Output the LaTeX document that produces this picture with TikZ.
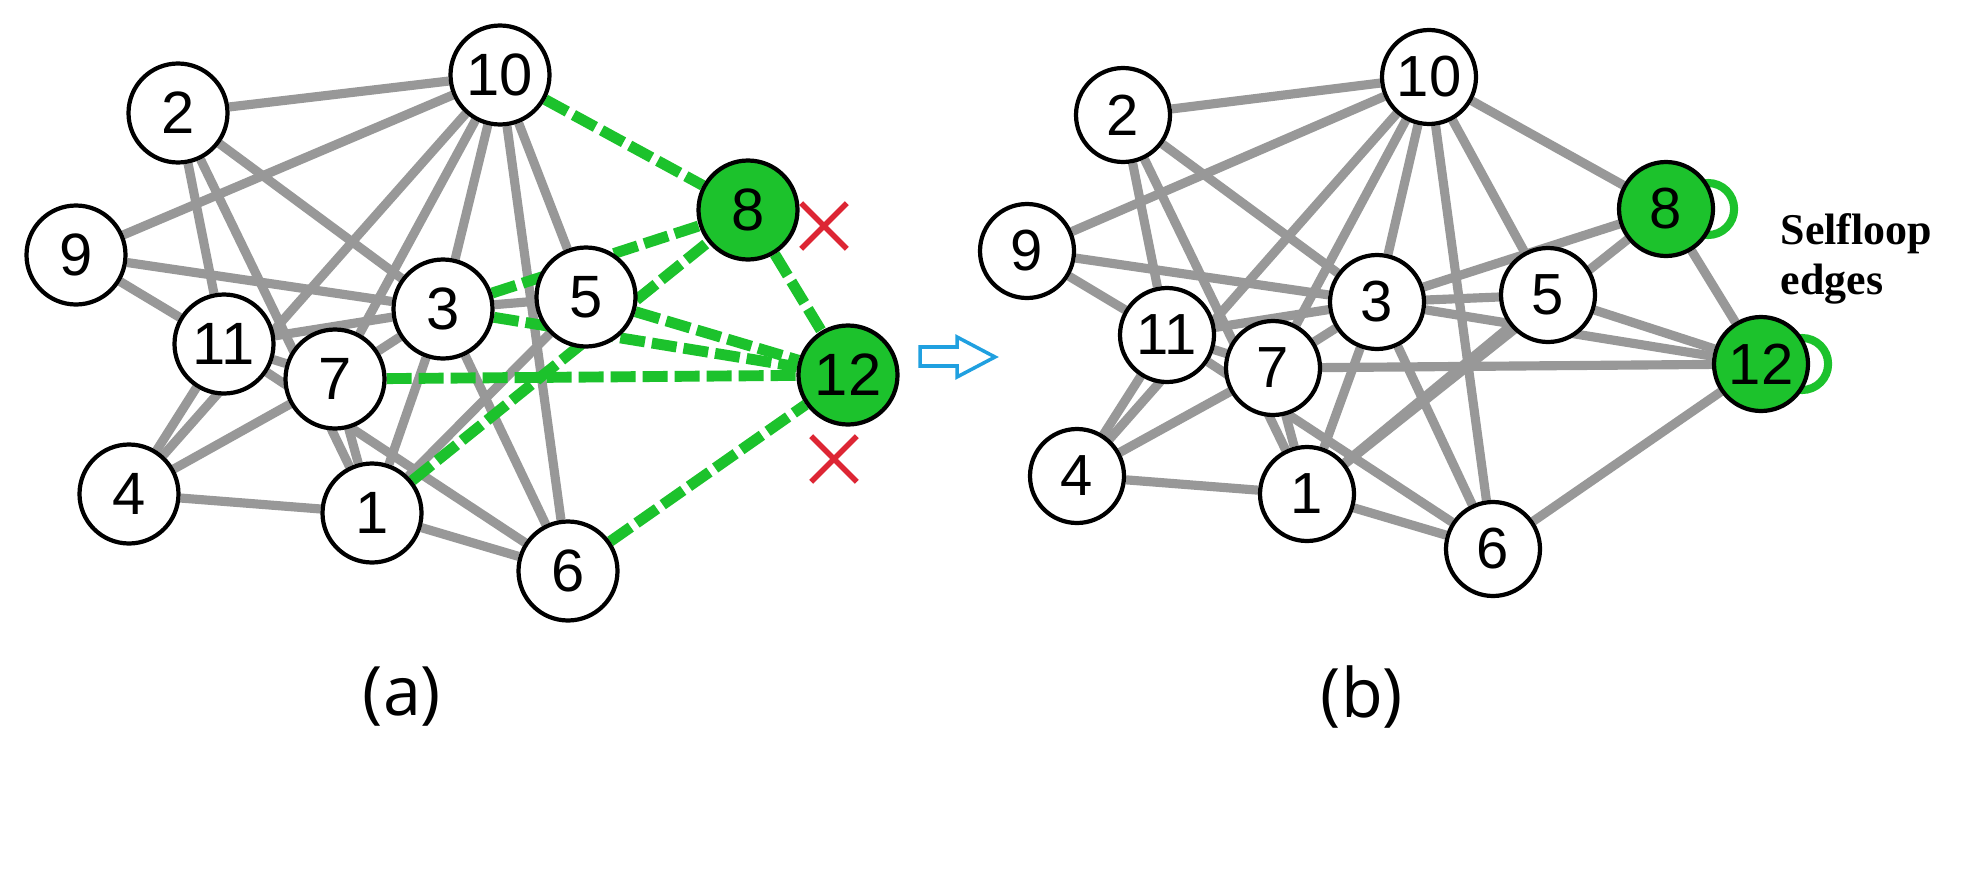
\documentclass[tikz,border=0pt]{standalone}
\usepackage{fontspec}
\setsansfont{Liberation Sans}
\newfontfamily\capfont{Open Sans}
\newfontfamily\notefont{Liberation Serif}
\usetikzlibrary{backgrounds,shapes.misc}
\definecolor{linkgray}{RGB}{152,152,152}
\definecolor{hitgreen}{RGB}{28,194,44}
\definecolor{markred}{RGB}{221,38,52}
\definecolor{arrowblue}{RGB}{32,160,224}
\newcommand\graylinks{2/10, 2/3, 2/11, 2/1, 9/10, 9/3, 9/11, 10/4, 10/7, 10/3, 10/6, 10/5, 11/4, 11/7, 11/3, 11/6, 4/7, 4/1, 7/3, 7/1, 3/1, 3/5, 3/6, 5/1, 1/6}
\newcommand\greenlinks{10/8, 3/8, 1/8, 8/12, 5/12, 3/12, 7/12, 6/12}
\tikzset{
  vertex/.style={circle, draw=black, line width=1.2pt, fill=white, inner sep=0pt, minimum size=0.99cm, font=\sffamily\fontsize{17}{17}\selectfont},
  small/.style={minimum size=0.94cm, font=\sffamily\fontsize{16.5}{16.5}\selectfont},
  plain/.style={},
  hit/.style={fill=hitgreen},
  link/.style={linkgray, line width=2.6pt},
  cutlink/.style={hitgreen, line width=3.1pt, dash pattern=on 0.25cm off 0.07cm},
  selfloop/.style={hitgreen, line width=2.3pt},
  nomark/.style={cross out, draw=markred, line width=1.6pt, minimum size=0.4cm, inner sep=0pt},
  panel/.style={font=\capfont\fontsize{19.4}{19.4}\selectfont},
}
\begin{document}
\begin{tikzpicture}
    \useasboundingbox (0,0) rectangle (19.72,8.68);
    \foreach \n/\x/\y/\s in {1/3.72/3.55/plain, 2/1.78/7.55/plain, 3/4.43/5.59/plain, 4/1.29/3.74/plain, 5/5.86/5.71/plain, 6/5.68/2.97/plain, 7/3.35/4.89/plain, 8/7.48/6.58/hit, 9/0.76/6.13/plain, 10/5.00/7.93/plain, 11/2.24/5.24/plain, 12/8.48/4.93/hit}
        \node[vertex,\s] (a\n) at (\x,\y) {\n};%图(a)的节点
    \foreach \n/\x/\y/\s in {1/13.07/3.74/plain, 2/11.23/7.53/plain, 3/13.77/5.66/plain, 4/10.77/3.92/plain, 5/15.48/5.73/plain, 6/14.93/3.19/plain, 7/12.73/5.00/plain, 8/16.66/6.59/hit, 9/10.27/6.17/plain, 10/14.29/7.91/plain, 11/11.67/5.33/plain, 12/17.61/5.04/hit}
        \node[vertex,small,\s] (b\n) at (\x,\y) {\n};%图(b)的节点
    \begin{scope}[on background layer]
        \fill[white] (0,0) rectangle (19.72,8.68);
        \foreach \u/\v in \graylinks {\draw[link] (a\u) -- (a\v); \draw[link] (b\u) -- (b\v);}
        \foreach \u/\v in \greenlinks {\draw[cutlink] (a\u) -- (a\v); \draw[link] (b\u) -- (b\v);}%与8,12相连的边
        \draw[selfloop] ([xshift=-0.07cm]b8.east) circle (0.26cm);
        \draw[selfloop] ([xshift=-0.08cm]b12.east) circle (0.26cm);
    \end{scope}
    \node[nomark] (x8) at (8.24,6.42) {};
    \node[nomark] (x12) at (8.34,4.09) {};
    \draw[arrowblue, line width=1pt] (9.20,5.21) -- (9.57,5.21) -- (9.57,5.31) -- (9.95,5.11) -- (9.57,4.91) -- (9.57,5.02) -- (9.20,5.02) -- cycle;
    \node[anchor=north west, inner sep=0pt, align=left, font=\notefont\bfseries\fontsize{12.5}{14.2}\selectfont] (looptext) at (17.80,6.55) {Selfloop\\edges};
    \node[panel] (capa) at (4.02,1.71) {(a)};
    \node[panel] (capb) at (13.62,1.71) {(b)};
\end{tikzpicture}
\end{document}
